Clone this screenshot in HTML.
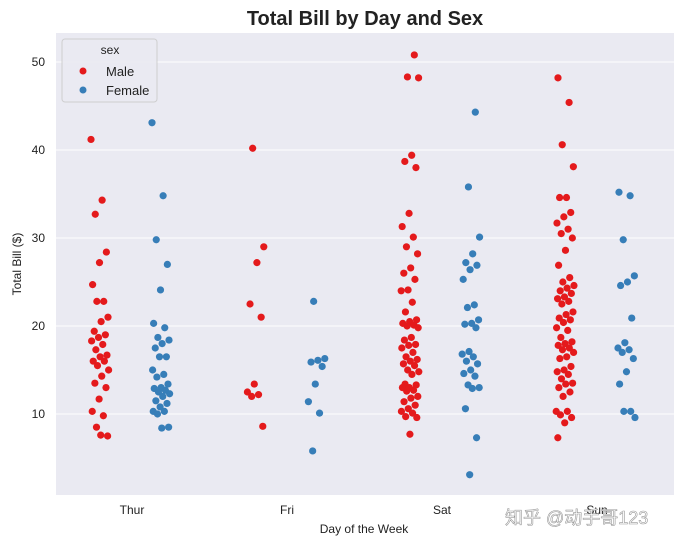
<!DOCTYPE html>
<html><head><meta charset="utf-8"><style>
body{margin:0;background:#fff;font-family:"Liberation Sans","Noto Sans CJK SC",sans-serif}
svg text{font-family:"Liberation Sans","Noto Sans CJK SC",sans-serif}
</style></head><body>
<svg id="chart" width="684" height="546" xmlns="http://www.w3.org/2000/svg">
<rect x="0" y="0" width="684" height="546" fill="#fff"/>
<text x="365" y="25" text-anchor="middle" font-size="20" font-weight="bold" fill="#222">Total Bill by Day and Sex</text>
<rect x="56" y="33" width="618" height="462" fill="#eaeaf2"/>
<g id="grid"></g><g id="ticks"></g><g id="points"></g>
<text x="364" y="533" text-anchor="middle" font-size="12" fill="#222">Day of the Week</text>
<text transform="translate(21,264) rotate(-90)" text-anchor="middle" font-size="12" fill="#222">Total Bill ($)</text>
<g>
<rect x="62" y="39" width="95" height="63" rx="3" fill="#eaeaf2" stroke="#ccc" opacity="0.9"/>
<text x="110" y="54" text-anchor="middle" font-size="12" fill="#222">sex</text>
<g><circle cx="83" cy="71" r="3.5" fill="#e41a1c"/><text x="106" y="76" font-size="13" fill="#222">Male</text></g>
<g><circle cx="83" cy="90" r="3.5" fill="#377eb8"/><text x="106" y="95" font-size="13" fill="#222">Female</text></g>
</g>
<text x="505" y="524" font-size="18" fill="#fff" stroke="#999" stroke-width="0.6">知乎 @动手哥123</text>
</svg>
<script>
const days=["Thur","Fri","Sat","Sun"];
const yTicks=[10,20,30,40,50];
const maleThur=[41.2,34.3,32.7,28.4,27.2,24.7,22.8,22.8,21.0,20.5,19.4,19.0,18.7,18.3,17.9,17.3,16.7,16.5,16.0,16.0,15.5,15.0,14.3,13.5,13.0,11.7,10.3,9.8,8.5,7.5,7.6];
const femaleThur=[43.1,34.8,29.8,27.0,24.1,20.3,19.8,18.7,18.4,18.0,17.5,16.5,16.5,15.0,14.5,14.2,13.4,13.0,12.9,12.7,12.5,12.3,12.0,11.5,11.2,10.8,10.3,10.3,10.0,8.5,8.4];
const maleFri=[40.2,29.0,27.2,22.5,21.0,13.4,12.5,12.2,12.0,8.6];
const femaleFri=[22.8,16.3,16.1,15.9,15.4,13.4,11.4,10.1,5.8];
const maleSat=[50.8,48.3,48.2,39.4,38.7,38.0,32.8,31.3,30.1,29.0,28.2,26.6,26.0,25.3,24.1,24.0,22.7,21.6,20.7,20.5,20.3,20.1,20.0,19.8,18.7,18.4,17.9,17.8,17.5,17.0,16.5,16.2,16.0,15.7,15.5,15.0,14.8,14.5,13.4,13.3,13.0,13.0,12.7,12.6,12.0,11.8,11.4,11.0,10.6,10.3,10.1,9.7,9.6,7.7];
const femaleSat=[44.3,35.8,30.1,28.2,27.2,26.9,26.4,25.3,22.4,22.1,20.7,20.3,20.2,19.8,17.1,16.8,16.5,16.0,15.7,15.0,14.6,14.3,13.3,13.0,12.9,10.6,7.3,3.1];
const maleSun=[48.2,45.4,40.6,38.1,34.6,34.6,32.9,32.4,31.7,31.0,30.5,30.0,28.6,26.9,25.5,25.0,24.6,24.3,24.0,23.7,23.3,23.1,22.8,22.5,21.6,21.3,20.9,20.7,20.4,19.8,19.5,18.7,18.2,18.0,17.8,17.5,17.3,17.0,16.5,16.3,15.4,15.0,14.8,14.5,14.0,13.5,13.4,13.0,12.5,12.0,10.3,10.3,9.9,9.6,9.0,7.3];
const femaleSun=[35.2,34.8,29.8,25.7,25.0,24.6,20.9,18.1,17.5,17.3,17.0,16.3,14.8,13.4,10.3,10.3,9.6];
const male=[maleThur,maleFri,maleSat,maleSun];
const female=[femaleThur,femaleFri,femaleSat,femaleSun];
const NS="http://www.w3.org/2000/svg";
function y(v){return 414-(v-10)*8.8;}
function xc(i){return 132+i*155;}
const grid=document.getElementById('grid'),ticks=document.getElementById('ticks'),pts=document.getElementById('points');
yTicks.forEach(t=>{
  const l=document.createElementNS(NS,'line');
  
  
  l.setAttribute('x1',56);l.setAttribute('x2',674);l.setAttribute('y1',y(t));l.setAttribute('y2',y(t));
  l.setAttribute('stroke','#fff');l.setAttribute('stroke-width','1');grid.appendChild(l);
  const tx=document.createElementNS(NS,'text');
  
  
  tx.setAttribute('x',45);tx.setAttribute('y',y(t)+4);tx.setAttribute('text-anchor','end');tx.setAttribute('font-size','12');tx.setAttribute('fill','#222');
  tx.textContent=t;ticks.appendChild(tx);
});
days.forEach((d,i)=>{
  const tx=document.createElementNS(NS,'text');
  
  
  tx.setAttribute('x',xc(i));tx.setAttribute('y',514);tx.setAttribute('text-anchor','middle');tx.setAttribute('font-size','12');tx.setAttribute('fill','#222');
  tx.textContent=d;ticks.appendChild(tx);
});
function draw(series,off,color,name){
  series.forEach((arr,i)=>{
    arr.forEach((v,k)=>{
      const j=(((k*0.6180339+i*0.37)%1)-0.5)*18;
      const c=document.createElementNS(NS,'circle');
      
      
      c.setAttribute('cx',xc(i)+off+j);c.setAttribute('cy',y(v));c.setAttribute('r',3.6);c.setAttribute('fill',color);
      pts.appendChild(c);
    });
  });
}
draw(male,-32,'#e41a1c','point-male');
draw(female,29,'#377eb8','point-female');
</script>
</body></html>
